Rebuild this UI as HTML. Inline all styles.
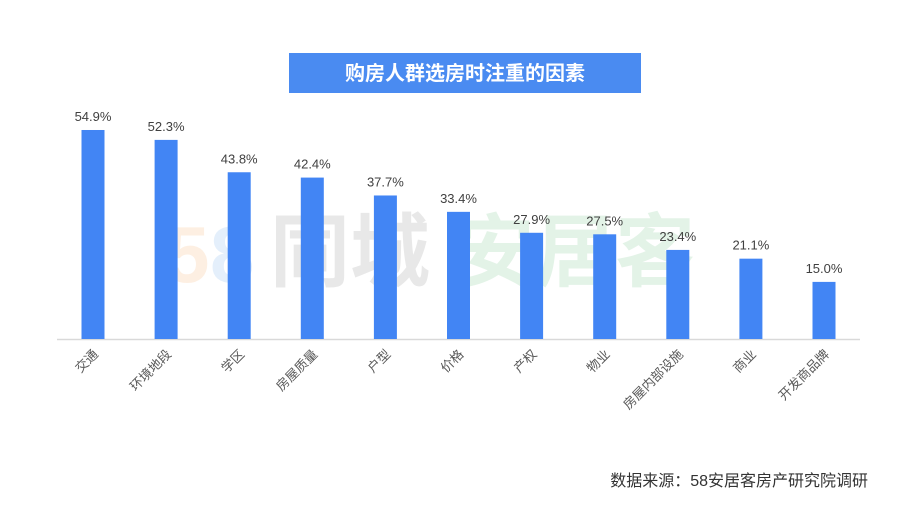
<!DOCTYPE html>
<html><head><meta charset="utf-8"><style>
body{margin:0;background:#fff;}
text{font-family:"Liberation Sans","Noto Sans CJK SC",sans-serif;}
</style></head><body>
<svg width="900" height="500" xmlns="http://www.w3.org/2000/svg">
<rect width="900" height="500" fill="#fff"/>
<g font-size="80" font-weight="bold" opacity="0.13">
<text x="165" y="282" fill="#f08a2c">5</text>
<text x="210" y="282" fill="#3a8ee6">8</text>
<text x="270" y="280" fill="#555">同城</text>
<text x="455" y="280" fill="#2fa84f">安居客</text>
</g>
<rect x="289" y="53" width="352" height="40" fill="#4a8bf1"/>
<text x="465" y="80" font-size="20" font-weight="bold" fill="#fff" text-anchor="middle">购房人群选房时注重的因素</text>
<line x1="57" y1="339.5" x2="860" y2="339.5" stroke="#d9d9d9" stroke-width="1.5"/>
<g id="bars" fill="#4285f4"></g>
<g id="vals" font-size="13" fill="#404040" text-anchor="middle"></g>
<g id="labs" font-size="13" fill="#595959" text-anchor="end"></g>
<text x="868" y="486" font-size="16" fill="#333" text-anchor="end">数据来源：58安居客房产研究院调研</text>
<script>
var d=[["交通",54.9],["环境地段",52.3],["学区",43.8],["房屋质量",42.4],["户型",37.7],["价格",33.4],["产权",27.9],["物业",27.5],["房屋内部设施",23.4],["商业",21.1],["开发商品牌",15.0]];
var ns="http://www.w3.org/2000/svg",b=document.getElementById("bars"),v=document.getElementById("vals"),l=document.getElementById("labs");
d.forEach(function(e,i){var cx=93+i*73.1,h=e[1]*3.807,y=339-h;
var r=document.createElementNS(ns,"rect");r.setAttribute("x",cx-11.5);r.setAttribute("y",y);r.setAttribute("width",23);r.setAttribute("height",h);b.appendChild(r);
var t=document.createElementNS(ns,"text");t.setAttribute("x",cx);t.setAttribute("y",y-9);t.textContent=e[1].toFixed(1)+"%";v.appendChild(t);
var s=document.createElementNS(ns,"text");s.setAttribute("transform","translate("+(cx+6)+",355) rotate(-45)");s.textContent=e[0];l.appendChild(s);});
</script>
</svg>
</body></html>
